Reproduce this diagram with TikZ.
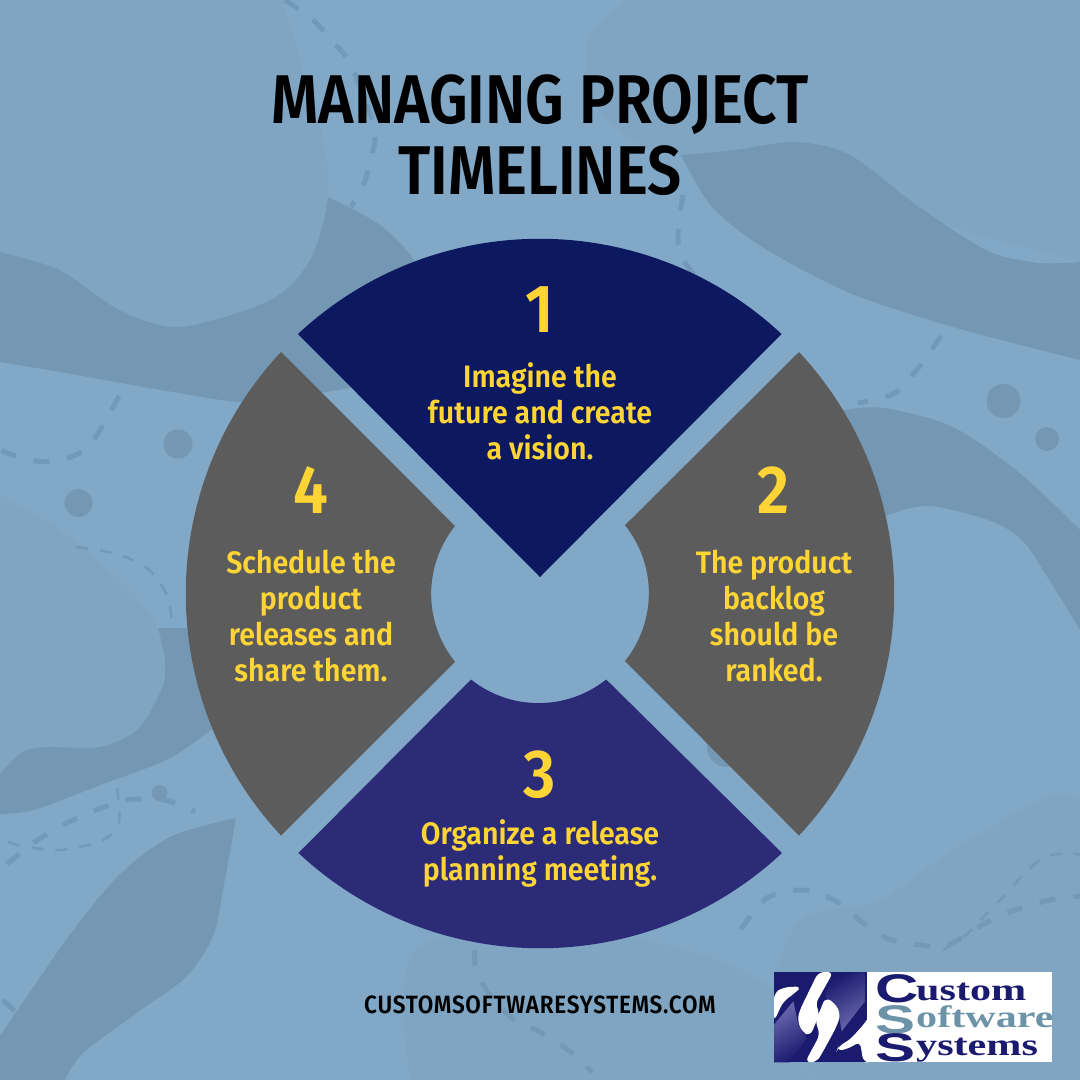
\documentclass[tikz,border=0pt]{standalone}
\usepackage{fontspec}
\usepackage{tikz}
\usetikzlibrary{positioning}
\setmainfont{Fira Sans}[FakeStretch=0.92, BoldFont={Fira Sans SemiBold}]
\newfontfamily\headfont{Fira Sans SemiBold}[FakeStretch=0.875]
\newfontfamily\sitefont{Fira Sans SemiBold}[FakeStretch=0.9, LetterSpace=3]
\newfontfamily\logofont{Liberation Serif}[FakeStretch=1.36]
\newfontfamily\logobigfont{Liberation Sans}[FakeStretch=1.5]
\definecolor{bgblue}{HTML}{81A8C7}
\definecolor{blobdark}{HTML}{7498B3}
\definecolor{bloblight}{HTML}{80A5C2}
\definecolor{trail}{HTML}{7399B8}
\definecolor{sectornavy}{HTML}{0C1860}
\definecolor{sectorindigo}{HTML}{2B2B78}
\definecolor{sectorgray}{HTML}{5C5C5C}
\definecolor{labelyellow}{HTML}{FFD535}
\definecolor{logonavy}{HTML}{1A1A6E}
\definecolor{logopurple}{HTML}{6A68AE}
\definecolor{logoteal}{HTML}{6C93A8}
\begin{document}
\begin{tikzpicture}[
        x=1pt, y=1pt,
        dotmark/.style={fill=blobdark},
        trailwide/.style={draw=trail, line width=5pt, dash pattern=on 16pt off 18pt},
        trailthin/.style={draw=trail, line width=2.5pt, dash pattern=on 12pt off 12pt},
        number/.style={inner sep=0pt, text=labelyellow, font=\fontsize{68}{68}\selectfont\bfseries},
        label/.style={inner sep=0pt, align=center, text=labelyellow, font=\fontsize{31}{36}\selectfont\bfseries},
        logoword/.style={inner sep=0pt, anchor=base west, text=logonavy, font=\fontsize{31}{31}\selectfont\logofont\bfseries},
        logobig/.style={inner sep=0pt, anchor=base west, text=logonavy, font=\fontsize{40}{40}\selectfont\logobigfont\bfseries}
    ]

    % Background
    \fill[bgblue] (0,0) rectangle (1080,-1080);
    \useasboundingbox (0,0) rectangle (1080,-1080);

    % Blobs upper left
    \fill[blobdark] plot[smooth] coordinates {(0,-252) (60,-270) (120,-310) (180,-327)}
        -- (328,-197) -- plot[smooth] coordinates {(328,-197) (380,-225) (415,-262) (440,-320)}
        -- plot[smooth] coordinates {(350,-388) (300,-396) (240,-402) (150,-388) (60,-372) (0,-362)} -- cycle;
    \fill[bloblight] (0,0) -- plot[smooth] coordinates {(283,0) (300,-60) (323,-140) (328,-197) (310,-260) (270,-300) (180,-327) (120,-310) (60,-270) (0,-252)} -- cycle;

    % Blobs upper right
    \fill[bloblight] plot[smooth] coordinates {(626,0) (590,-35) (586,-70) (600,-110) (640,-145) (681,-155)}
        -- (1080,-262) -- (1080,0) -- cycle;
    \fill[blobdark] plot[smooth] coordinates {(681,-155) (735,-150) (795,-142) (850,-155) (919,-207) (988,-251) (1039,-263) (1080,-262)}
        -- plot[smooth] coordinates {(1080,-360) (953,-327) (850,-293) (764,-248) (712,-207) (681,-155)} -- cycle;

    % Blobs right
    \fill[blobdark] plot[smooth] coordinates {(843,-410) (884,-408) (953,-427) (1022,-475) (1080,-530)}
        -- plot[smooth] coordinates {(1080,-630) (1050,-581) (1022,-540) (988,-520) (929,-506) (888,-515) (860,-530)} -- cycle;

    % Blobs lower left
    \fill[bloblight] plot[smooth] coordinates {(0,-495) (60,-530) (130,-590) (158,-628) (165,-660) (162,-688) (138,-729) (100,-747) (45,-747) (21,-753) (0,-774)} -- cycle;
    \fill[blobdark] plot[smooth] coordinates {(158,-628) (165,-660) (162,-688) (138,-729) (100,-747) (45,-747) (21,-753) (0,-774)}
        -- plot[smooth] coordinates {(0,-814) (34,-810) (103,-784) (172,-757) (230,-715)} -- (186,-628) -- cycle;
    \fill[blobdark] plot[smooth] coordinates {(236,-818) (172,-836) (120,-874) (69,-936) (0,-1036)}
        -- (0,-1080) -- plot[smooth] coordinates {(65,-1080) (83,-1053) (138,-1012) (186,-977) (213,-936) (224,-884) (236,-818)} -- cycle;

    % Blobs lower right
    \fill[bloblight] plot[smooth cycle] coordinates {(780,-1000) (800,-920) (880,-900) (970,-840) (1080,-800) (1120,-1000) (1100,-1120) (860,-1120)};
    \fill[bloblight] plot[smooth cycle] coordinates {(410,-1080) (405,-980) (440,-940) (640,-940) (760,-980) (790,-1040) (800,-1120) (430,-1120)};

    % Dots
    \fill[dotmark] (178,-444) circle (14.5);
    \fill[dotmark] (78.5,-503) circle (14);
    \fill[dotmark] (1003.5,-401) circle (17);
    \fill[dotmark] (1047,-439) circle (12);
    \fill[dotmark] (159.5,-793) circle (8);
    \fill[dotmark] (727,-747) circle (20);

    % Trails
    \draw[trailwide] plot[smooth] coordinates {(285,0) (312,-19) (332,-41) (351,-65) (374,-127) (372,-155) (363,-186) (351,-207)};
    \draw[trailwide] plot[smooth] coordinates {(119,-396) (103,-425) (86,-449) (58,-461) (28,-460) (0,-450)};
    \draw[trailwide] plot[smooth] coordinates {(683,-195) (678,-238) (688,-267) (764,-360)};
    \draw[trailwide] plot[smooth] coordinates {(941,-336) (919,-367) (895,-393) (858,-403)};
    \draw[trailwide] plot[smooth] coordinates {(7,-864) (36,-841) (65,-824) (96,-810) (127,-800) (165,-800) (195,-812)};
    \draw[trailthin] plot[smooth] coordinates {(76,-547) (117,-554) (148,-569) (167,-595) (172,-623)};
    \draw[trailthin] plot[smooth] coordinates {(117,-788) (119,-822) (103,-840) (62,-850) (21,-846) (0,-838)};
    \draw[trailwide] plot[smooth] coordinates {(3,-1000) (17,-1013)};
    \draw[trailwide] plot[smooth] coordinates {(475,-950) (475,-965) (487,-991) (513,-1019) (540,-1032) (568,-1050) (592,-1072)};
    \draw[trailwide] plot[smooth] coordinates {(741,-929) (767,-898) (802,-890) (834,-900) (862,-922) (889,-939) (920,-945) (946,-946) (984,-924) (1015,-910) (1050,-900) (1080,-896)};
    \draw[trailthin] plot[smooth] coordinates {(943,-950) (967,-934) (988,-912) (1005,-895) (1022,-876) (1043,-858) (1067,-853) (1080,-855)};

    % Sectors
    \fill[sectornavy] (540,-577) -- (298,-334) arc[start angle=133, end angle=47, radius=354.5] -- cycle;
    \fill[sectorgray] (799,-352) arc[start angle=43, end angle=-43, radius=354.5]
        -- (625,-661) arc[start angle=-38.7, end angle=38.7, radius=108.6] -- cycle;
    \fill[sectorindigo] (782,-853) arc[start angle=-47, end angle=-133, radius=354.5]
        -- (471,-679.5) arc[start angle=-128.5, end angle=-51.5, radius=108.6] -- cycle;
    \fill[sectorgray] (281,-835.5) arc[start angle=223, end angle=137, radius=354.5]
        -- (455,-526) arc[start angle=141.3, end angle=218.7, radius=108.6] -- cycle;

    % Title
    \node[inner sep=0pt, align=center, text=black, font=\fontsize{69}{71.5}\headfont] (title) at (540,-135) {MANAGING PROJECT\\TIMELINES};

    % Steps
    \node[number] (num1) at (540,-310) {1};
    \node[label, below=29pt of num1] (text1) {Imagine the\\future and create\\a vision.};
    \node[number] (num2) at (774,-490) {2};
    \node[label, below=36pt of num2] (text2) {The product\\backlog\\should be\\ranked.};
    \node[number] (num3) at (540,-775) {3};
    \node[label, below=20.5pt of num3] (text3) {Organize a release\\planning meeting.};
    \node[number] (num4) at (311,-490) {4};
    \node[label, below=36pt of num4] (text4) {Schedule the\\product\\releases and\\share them.};

    % Footer
    \node[inner sep=0pt, text=black, font=\fontsize{25}{25}\sitefont] (site) at (540,-1005) {CUSTOMSOFTWARESYSTEMS.COM};

    % Logo
    \fill[white] (774,-972) rectangle (1052,-1062);
    \begin{scope}[shift={(770,-968)}, x=0.3333pt, y=-0.3333pt]
        \fill[logonavy] (12,12) rectangle (290,283);
        % stripes
        \shade[left color=logonavy, right color=logopurple, shading angle=30] (190,12) -- (285,12) -- (285,100) -- (215,190) -- (205,130) -- (165,85) -- cycle;
        \shade[left color=logopurple, right color=logonavy, shading angle=30] (12,170) -- (70,100) -- (85,170) -- (110,210) -- (60,283) -- (12,283) -- cycle;
        % links
        \fill[white, rounded corners=6pt] (145,12) -- (190,12) -- (135,110) -- (150,135) -- (120,205) -- (95,190) -- (82,155) -- (90,125) -- cycle;
        \fill[white, rounded corners=6pt] (12,75) -- (40,58) -- (95,55) -- (75,75) -- (40,100) -- (12,160) -- cycle;
        \fill[white, rounded corners=6pt] (165,88) -- (195,105) -- (212,140) -- (200,175) -- (165,240) -- (140,283) -- (105,283) -- (150,200) -- (135,155) -- (150,130) -- cycle;
        \fill[white, rounded corners=6pt] (200,250) -- (240,240) -- (270,220) -- (280,283) -- (300,283) -- (300,140) -- (285,165) -- (240,215) -- (205,235) -- cycle;
    \end{scope}
    \node[logobig] (bigC) at (875,-1002) {C};
    \node[logoword] (wordC) at (916,-1000) {ustom};
    \node[logobig, text=logoteal] (bigS) at (875,-1033) {S};
    \node[logoword, text=logoteal] (wordS) at (916,-1027) {oftware};
    \node[logobig] (bigY) at (875,-1061) {S};
    \node[logoword] (wordY) at (916,-1055) {ystems};

\end{tikzpicture}
\end{document}
